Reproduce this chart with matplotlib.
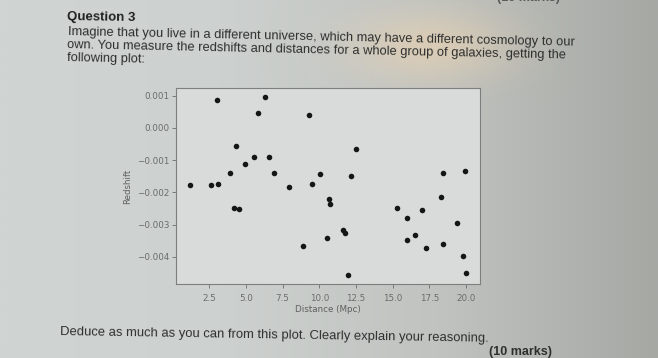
import numpy as np
import matplotlib
matplotlib.use("Agg")
import matplotlib.pyplot as plt
from matplotlib.colors import LinearSegmentedColormap

# ---- data ----
distance = [1.18, 3.01, 6.27, 5.83, 4.31, 5.58, 6.55, 4.95, 3.89, 6.92,
            2.64, 3.10, 7.92, 4.21, 4.51, 8.89, 9.30, 9.52, 10.07, 10.67,
            10.75, 10.52, 12.49, 12.14, 11.60, 11.74, 11.95, 15.28, 15.98, 17.00,
            16.00, 16.51, 17.26, 18.40, 19.93, 18.28, 19.35, 18.42, 19.79, 20.00]
redshift_e3 = [-1.78, 0.86, 0.96, 0.46, -0.55, -0.89, -0.90, -1.12, -1.39, -1.41,
               -1.78, -1.73, -1.83, -2.48, -2.53, -3.66, 0.40, -1.73, -1.44, -2.22,
               -2.35, -3.43, -0.65, -1.49, -3.17, -3.26, -4.57, -2.49, -2.80, -2.55,
               -3.47, -3.34, -3.72, -1.39, -1.34, -2.14, -2.95, -3.62, -3.98, -4.50]
redshift = [v * 1e-3 for v in redshift_e3]

x_ticks = [2.5, 5.0, 7.5, 10.0, 12.5, 15.0, 17.5, 20.0]
y_ticks = [0.001, 0.000, -0.001, -0.002, -0.003, -0.004]

question_title = "Question 3"
question_lines = [
    "Imagine that you live in a different universe, which may have a different cosmology to our",
    "own. You measure the redshifts and distances for a whole group of galaxies, getting the",
    "following plot:",
]
footer = "Deduce as much as you can from this plot. Clearly explain your reasoning."
marks = "(10 marks)"

W, H = 658, 358
fig = plt.figure(figsize=(W / 100, H / 100), dpi=100)

# background (photographed paper/screen)
bg = fig.add_axes([0, 0, 1, 1], zorder=0)
bg.set_axis_off()
cmap = LinearSegmentedColormap.from_list("bg", ["#d0d4d2", "#cdd1cf", "#c0c3c0", "#a6a8a4"])
grad = np.tile(np.linspace(0, 1, 256), (16, 1))
bg.imshow(grad, cmap=cmap, aspect="auto", extent=[0, 1, 0, 1])
# warm light reflection near the top text
yy, xx = np.mgrid[0:H:2, 0:W:2]
glow = np.exp(-(((xx - 430) / 80.0) ** 2 + ((yy - 45) / 35.0) ** 2))
rgba = np.zeros(glow.shape + (4,))
rgba[..., 0], rgba[..., 1], rgba[..., 2] = 0.96, 0.84, 0.68
rgba[..., 3] = 0.5 * glow
bg.imshow(rgba, aspect="auto", extent=[0, 1, 0, 1], origin="upper")
bg.set_xlim(0, 1)
bg.set_ylim(0, 1)

textfam = ["Liberation Sans", "DejaVu Sans"]
txtcol = "#2e302f"
rot = -1.2

def px(x, y):
    return x / W, 1 - y / H

fig.text(*px(67, 17), question_title, fontsize=9.5, fontweight="bold", family=textfam,
         color="#1f2120", ha="left", va="center", rotation=-0.8, rotation_mode="anchor")
fig.text(*px(68, 26), "\n".join(question_lines), fontsize=9.3, family=textfam,
         color=txtcol, ha="left", va="top", linespacing=1.12,
         rotation=rot, rotation_mode="anchor")
fig.text(*px(60, 332), footer, fontsize=9.4, family=textfam, color=txtcol,
         ha="left", va="center", rotation=-0.9, rotation_mode="anchor")
fig.text(*px(489, 352), marks, fontsize=9.0, fontweight="bold", family=textfam,
         color=txtcol, ha="left", va="center")
fig.text(*px(497, -2), marks, fontsize=9.0, fontweight="bold", family=textfam,
         color="#5a5c5a", ha="left", va="center")

# scatter plot
ax = fig.add_axes([176 / W, 1 - 284 / H, (480 - 176) / W, (284 - 88) / H], zorder=2)
ax.set_facecolor("#d8dbd9")
ax.scatter(distance, redshift, s=16, color="#151515", linewidths=0)
ax.set_xticks(x_ticks)
ax.set_yticks(y_ticks)
ax.set_xticklabels([f"{t:.1f}" for t in x_ticks])
ax.set_yticklabels([f"{t:.3f}".replace("-", "\u2212") for t in y_ticks])
ax.tick_params(labelsize=6.3, colors="#6a6d6b", length=3, width=0.6)
ax.tick_params(axis="x", pad=4)
ax.tick_params(axis="y", pad=1.5)
for sp in ax.spines.values():
    sp.set_color("#7c7f7d")
    sp.set_linewidth(0.8)
ax.set_xlabel("Distance (Mpc)", fontsize=6.3, color="#5d605e", labelpad=1.5)
ax.set_ylabel("Redshift", fontsize=6.2, color="#5d605e", labelpad=4)

fig.savefig("out.png", dpi=100)
